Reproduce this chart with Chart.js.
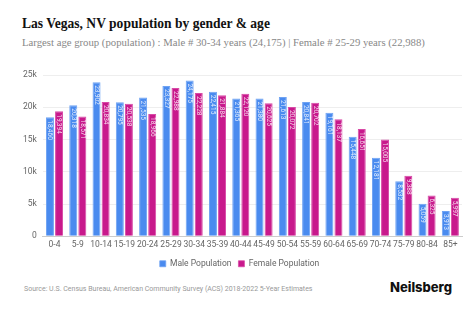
<!DOCTYPE html>
<html><head><meta charset="utf-8">
<script src="https://cdn.jsdelivr.net/npm/chart.js@4/dist/chart.umd.min.js"></script>
<style>
html,body{margin:0;padding:0;background:#fff;width:474px;height:316px;overflow:hidden;position:relative}
.t{position:absolute;white-space:nowrap;line-height:1}
#title{left:22px;top:17px;font-family:"Liberation Serif",serif;font-weight:bold;font-size:17px;color:#111}
#sub{left:22px;top:37px;font-family:"Liberation Serif",serif;font-size:11px;color:#888}
#src{left:24px;top:286px;font-family:Roboto,sans-serif;font-size:7.2px;color:#999}
#logo{left:390px;top:281px;font-family:Inter,Roboto,sans-serif;font-weight:800;font-size:13.2px;color:#111}
#wrap{position:absolute;left:0;top:64px;width:474px;height:214px}
</style></head>
<body>
<div id="title" class="t">Las Vegas, NV population by gender &amp; age</div>
<div id="sub" class="t">Largest age group (population) : Male # 30-34 years (24,175) | Female # 25-29 years (22,988)</div>
<div id="wrap"><canvas id="c"></canvas></div>
<div id="src" class="t">Source: U.S. Census Bureau, American Community Survey (ACS) 2018-2022 5-Year Estimates</div>
<div id="logo" class="t">Neilsberg</div>
<script>
const categories = ["0-4","5-9","10-14","15-19","20-24","25-29","30-34","35-39","40-44","45-49","50-54","55-59","60-64","65-69","70-74","75-79","80-84","85+"];
const malePopulation = [18460,20318,23902,20795,21535,23327,24175,22415,21365,21380,21613,20841,19161,15448,12181,8532,5059,3913];
const femalePopulation = [19394,18571,20834,20538,18966,22988,22228,21884,22120,20625,20072,20702,18137,16651,15005,9388,6325,5997];
const yTicks = [0,5000,10000,15000,20000,25000];

// fit text widths to the reference
function fit(id, w){
  const el = document.getElementById(id);
  const fs = parseFloat(getComputedStyle(el).fontSize);
  const cw = el.getBoundingClientRect().width;
  if (cw > 0) el.style.fontSize = (fs * w / cw) + 'px';
}
fit('title', 248); fit('sub', 403); fit('src', 288); fit('logo', 62);

const barLabels = {
  id:'barLabels',
  afterDatasetsDraw(chart){
    const ctx = chart.ctx;
    ctx.save();
    ctx.font = '6.5px Roboto, sans-serif';
    ctx.fillStyle = 'rgba(255,255,255,0.85)';
    ctx.textAlign = 'left';
    ctx.textBaseline = 'middle';
    chart.data.datasets.forEach((ds,i)=>{
      chart.getDatasetMeta(i).data.forEach((bar,j)=>{
        const txt = ds.data[j].toLocaleString('en-US');
        ctx.save();
        ctx.translate(bar.x, bar.y + 3);
        ctx.rotate(Math.PI/2);
        ctx.fillText(txt, 0, 0);
        ctx.restore();
      });
    });
    ctx.restore();
  }
};

new Chart(document.getElementById('c'), {
  type:'bar',
  data:{
    labels:categories,
    datasets:[
      {label:'Male Population', data:malePopulation, backgroundColor:'#4A8BEF', borderColor:'#6FA3F3', borderWidth:{top:1,left:1,right:1,bottom:0}, categoryPercentage:0.78, barPercentage:0.88},
      {label:'Female Population', data:femalePopulation, backgroundColor:'#C8198C', borderColor:'#D84AA6', borderWidth:{top:1,left:1,right:1,bottom:0}, categoryPercentage:0.78, barPercentage:0.88}
    ]
  },
  options:{
    responsive:true, maintainAspectRatio:false, animation:false,
    layout:{padding:{left:17,right:12,top:7,bottom:0}},
    plugins:{
      legend:{position:'bottom', labels:{boxWidth:6, boxHeight:6, font:{family:'Roboto', size:8.5}, color:'#666', padding:7}},
      tooltip:{enabled:false}
    },
    scales:{
      x:{grid:{display:false, drawTicks:false, tickLength:0}, border:{color:'#ccc'}, ticks:{padding:3, font:{family:'Roboto', size:8.5}, color:'#666', maxRotation:0, autoSkip:false}},
      y:{min:0, max:25000, afterBuildTicks(s){ s.ticks = yTicks.map(v=>({value:v})); },
         grid:{color:'#eee', drawTicks:false}, border:{display:false},
         ticks:{font:{family:'Roboto', size:8.5}, color:'#666', padding:6, callback:v=> v===0?'0':(v/1000)+'k'}}
    }
  },
  plugins:[barLabels]
});
</script>
</body></html>
